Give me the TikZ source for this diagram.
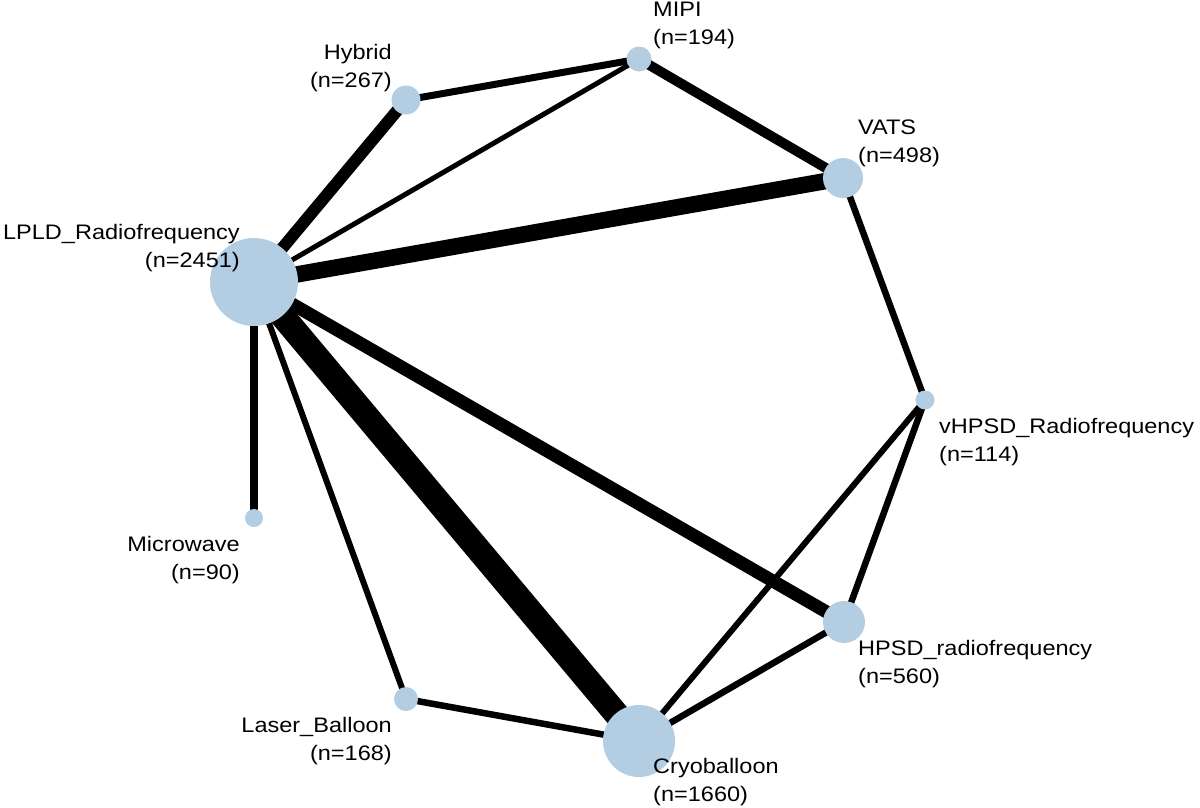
\documentclass[tikz,border=0pt]{standalone}
\usepackage{fontspec}
\newfontfamily\lblfont[FakeStretch=1.12]{Liberation Sans}
\usetikzlibrary{backgrounds}
\definecolor{nodeblue}{HTML}{B3CDE3}
\begin{document}
\begin{tikzpicture}[x=1pt,y=-1pt,
  trt/.style={circle, fill=nodeblue, inner sep=0pt, minimum size=#1},
  edge/.style={line width=#1, black},
  lbl/.style={font=\lblfont\fontsize{21}{28}\selectfont, inner sep=0pt, text=black}]
\useasboundingbox (0,0) rectangle (1200,807);
% treatments
\node[trt=88] (lpld)   at (254,282) {};
\node[trt=29] (hybrid) at (406,100) {};
\node[trt=25] (mipi)   at (639,59)  {};
\node[trt=40] (vats)   at (843,178) {};
\node[trt=19] (vhpsd)  at (925,400) {};
\node[trt=42] (hpsd)   at (844,622) {};
\node[trt=72] (cryo)   at (639,741) {};
\node[trt=24] (laser)  at (406,699) {};
\node[trt=18] (micro)  at (254,518) {};
% comparisons
\begin{scope}[on background layer]
\draw[edge=25]   (lpld.center) -- (cryo.center);
\draw[edge=16.5] (lpld.center) -- (vats.center);
\draw[edge=13]   (lpld.center) -- (hpsd.center);
\draw[edge=12]   (lpld.center) -- (hybrid.center);
\draw[edge=5]    (lpld.center) -- (mipi.center);
\draw[edge=6]    (lpld.center) -- (laser.center);
\draw[edge=7.5]  (lpld.center) -- (micro.center);
\draw[edge=7]    (hybrid.center) -- (mipi.center);
\draw[edge=10]   (mipi.center) -- (vats.center);
\draw[edge=6.5]  (vats.center) -- (vhpsd.center);
\draw[edge=6.5]  (vhpsd.center) -- (hpsd.center);
\draw[edge=6]    (vhpsd.center) -- (cryo.center);
\draw[edge=6.5]  (hpsd.center) -- (cryo.center);
\draw[edge=6.5]  (laser.center) -- (cryo.center);
\end{scope}
% labels
\node[lbl, anchor=north east, align=right] (lpldL)   at (240,224) {LPLD\_Radiofrequency\\(n=2451)};
\node[lbl, anchor=north east, align=right] (hybridL) at (392,44)  {Hybrid\\(n=267)};
\node[lbl, anchor=north west, align=left]  (mipiL)   at (653,2)   {MIPI\\(n=194)};
\node[lbl, anchor=north west, align=left]  (vatsL)   at (858,120) {VATS\\(n=498)};
\node[lbl, anchor=north west, align=left]  (vhpsdL)  at (939,418) {vHPSD\_Radiofrequency\\(n=114)};
\node[lbl, anchor=north west, align=left]  (hpsdL)   at (858,640) {HPSD\_radiofrequency\\(n=560)};
\node[lbl, anchor=north west, align=left]  (cryoL)   at (653,758) {Cryoballoon\\(n=1660)};
\node[lbl, anchor=north east, align=right] (laserL)  at (392,717) {Laser\_Balloon\\(n=168)};
\node[lbl, anchor=north east, align=right] (microL)  at (240,536) {Microwave\\(n=90)};
\end{tikzpicture}
\end{document}
